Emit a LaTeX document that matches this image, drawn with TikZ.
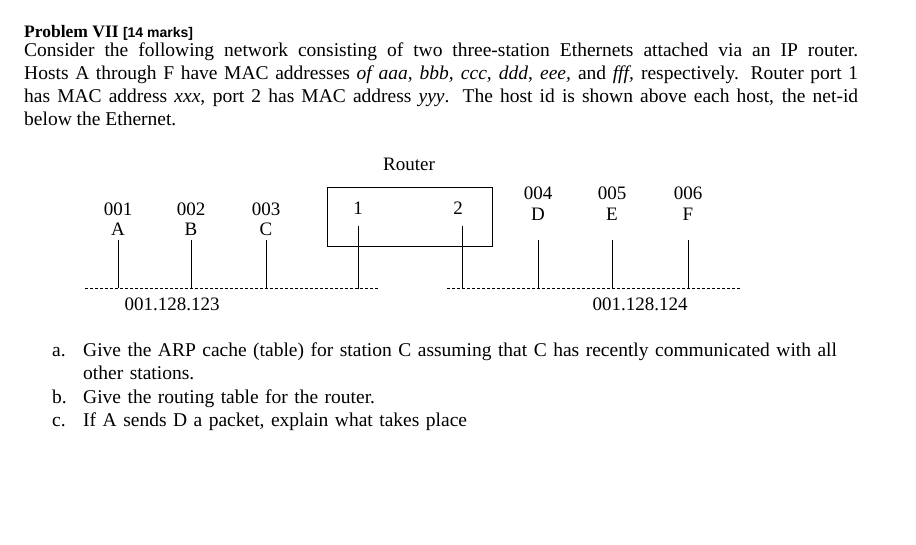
\documentclass[tikz,border=0pt]{standalone}
\usepackage{fontspec}
\setmainfont{Liberation Serif}
\setsansfont{Liberation Sans}
\begin{document}
\begin{tikzpicture}[x=1pt,y=-1pt,
  txt/.style={inner sep=0pt,font=\fontsize{19.5}{23}\selectfont},
  lbl/.style={inner sep=0pt,font=\fontsize{19}{22}\selectfont},
  host/.style={line width=0.7pt},
  eth/.style={dashed,dash pattern=on 3pt off 2pt,line width=0.7pt}]
\useasboundingbox (0,0) rectangle (916,545);
\node[inner sep=0pt,anchor=west] (title) at (24,33) {\fontsize{17.5}{21}\selectfont\textbf{Problem VII} {\sffamily\bfseries\fontsize{14}{17}\selectfont [14 marks]}};
\node[txt,anchor=north west,text width=834pt,align=justify] (para) at (24,43)
{Consider the following network consisting of two three-station Ethernets attached via an IP router.\linebreak
Hosts A through F have MAC addresses \textit{of aaa, bbb, ccc, ddd, eee,} and \textit{fff,} respectively. Router port 1\linebreak
has MAC address \textit{xxx}, port 2 has MAC address \textit{yyy}. The host id is shown above each host, the net-id\linebreak
below the Ethernet.};
% router
\node[lbl] (rt) at (409,164) {Router};
\draw[line width=0.8pt] (327,187) rectangle (492,246);
\node[lbl] (p1) at (358,208) {1};
\node[lbl] (p2) at (458,208) {2};
\coordinate (p1t) at (358,226); \coordinate (p1b) at (358,289);
\coordinate (p2t) at (462,226); \coordinate (p2b) at (462,289);
\draw[host] (p1t) -- (p1b);
\draw[host] (p2t) -- (p2b);
% ethernets
\coordinate (l1) at (85,288); \coordinate (l2) at (378,288);
\coordinate (r1) at (447,288); \coordinate (r2) at (740,288);
\draw[eth] (l1) -- (l2);
\draw[eth] (r1) -- (r2);
\node[lbl] (n1) at (172,304) {001.128.123};
\node[lbl] (n2) at (640,304) {001.128.124};
% left hosts
\foreach \x/\id/\n in {118/001/A,191/002/B,266/003/C}{
  \node[lbl] (id\n) at (\x,209) {\id};
  \node[lbl] (h\n) at (\x,229) {\n};
  \coordinate (t\n) at (\x,240); \coordinate (b\n) at (\x,288);
  \draw[host] (t\n) -- (b\n);
}
\foreach \x/\id/\n in {538/004/D,612/005/E,688/006/F}{
  \node[lbl] (id\n) at (\x,193) {\id};
  \node[lbl] (h\n) at (\x,214) {\n};
  \coordinate (t\n) at (\x,240); \coordinate (b\n) at (\x,288);
  \draw[host] (t\n) -- (b\n);
}
% questions
\node[txt,anchor=north west,text width=830pt,align=left] (qa) at (52,343)
{\makebox[31pt][l]{a.}Give the ARP cache (table) for station C assuming that C has recently communicated with all\\
\hspace*{31pt}other stations.\\[1pt]
\makebox[31pt][l]{b.}Give the routing table for the router.\\
\makebox[31pt][l]{c.}If A sends D a packet, explain what takes place};
\end{tikzpicture}
\end{document}
